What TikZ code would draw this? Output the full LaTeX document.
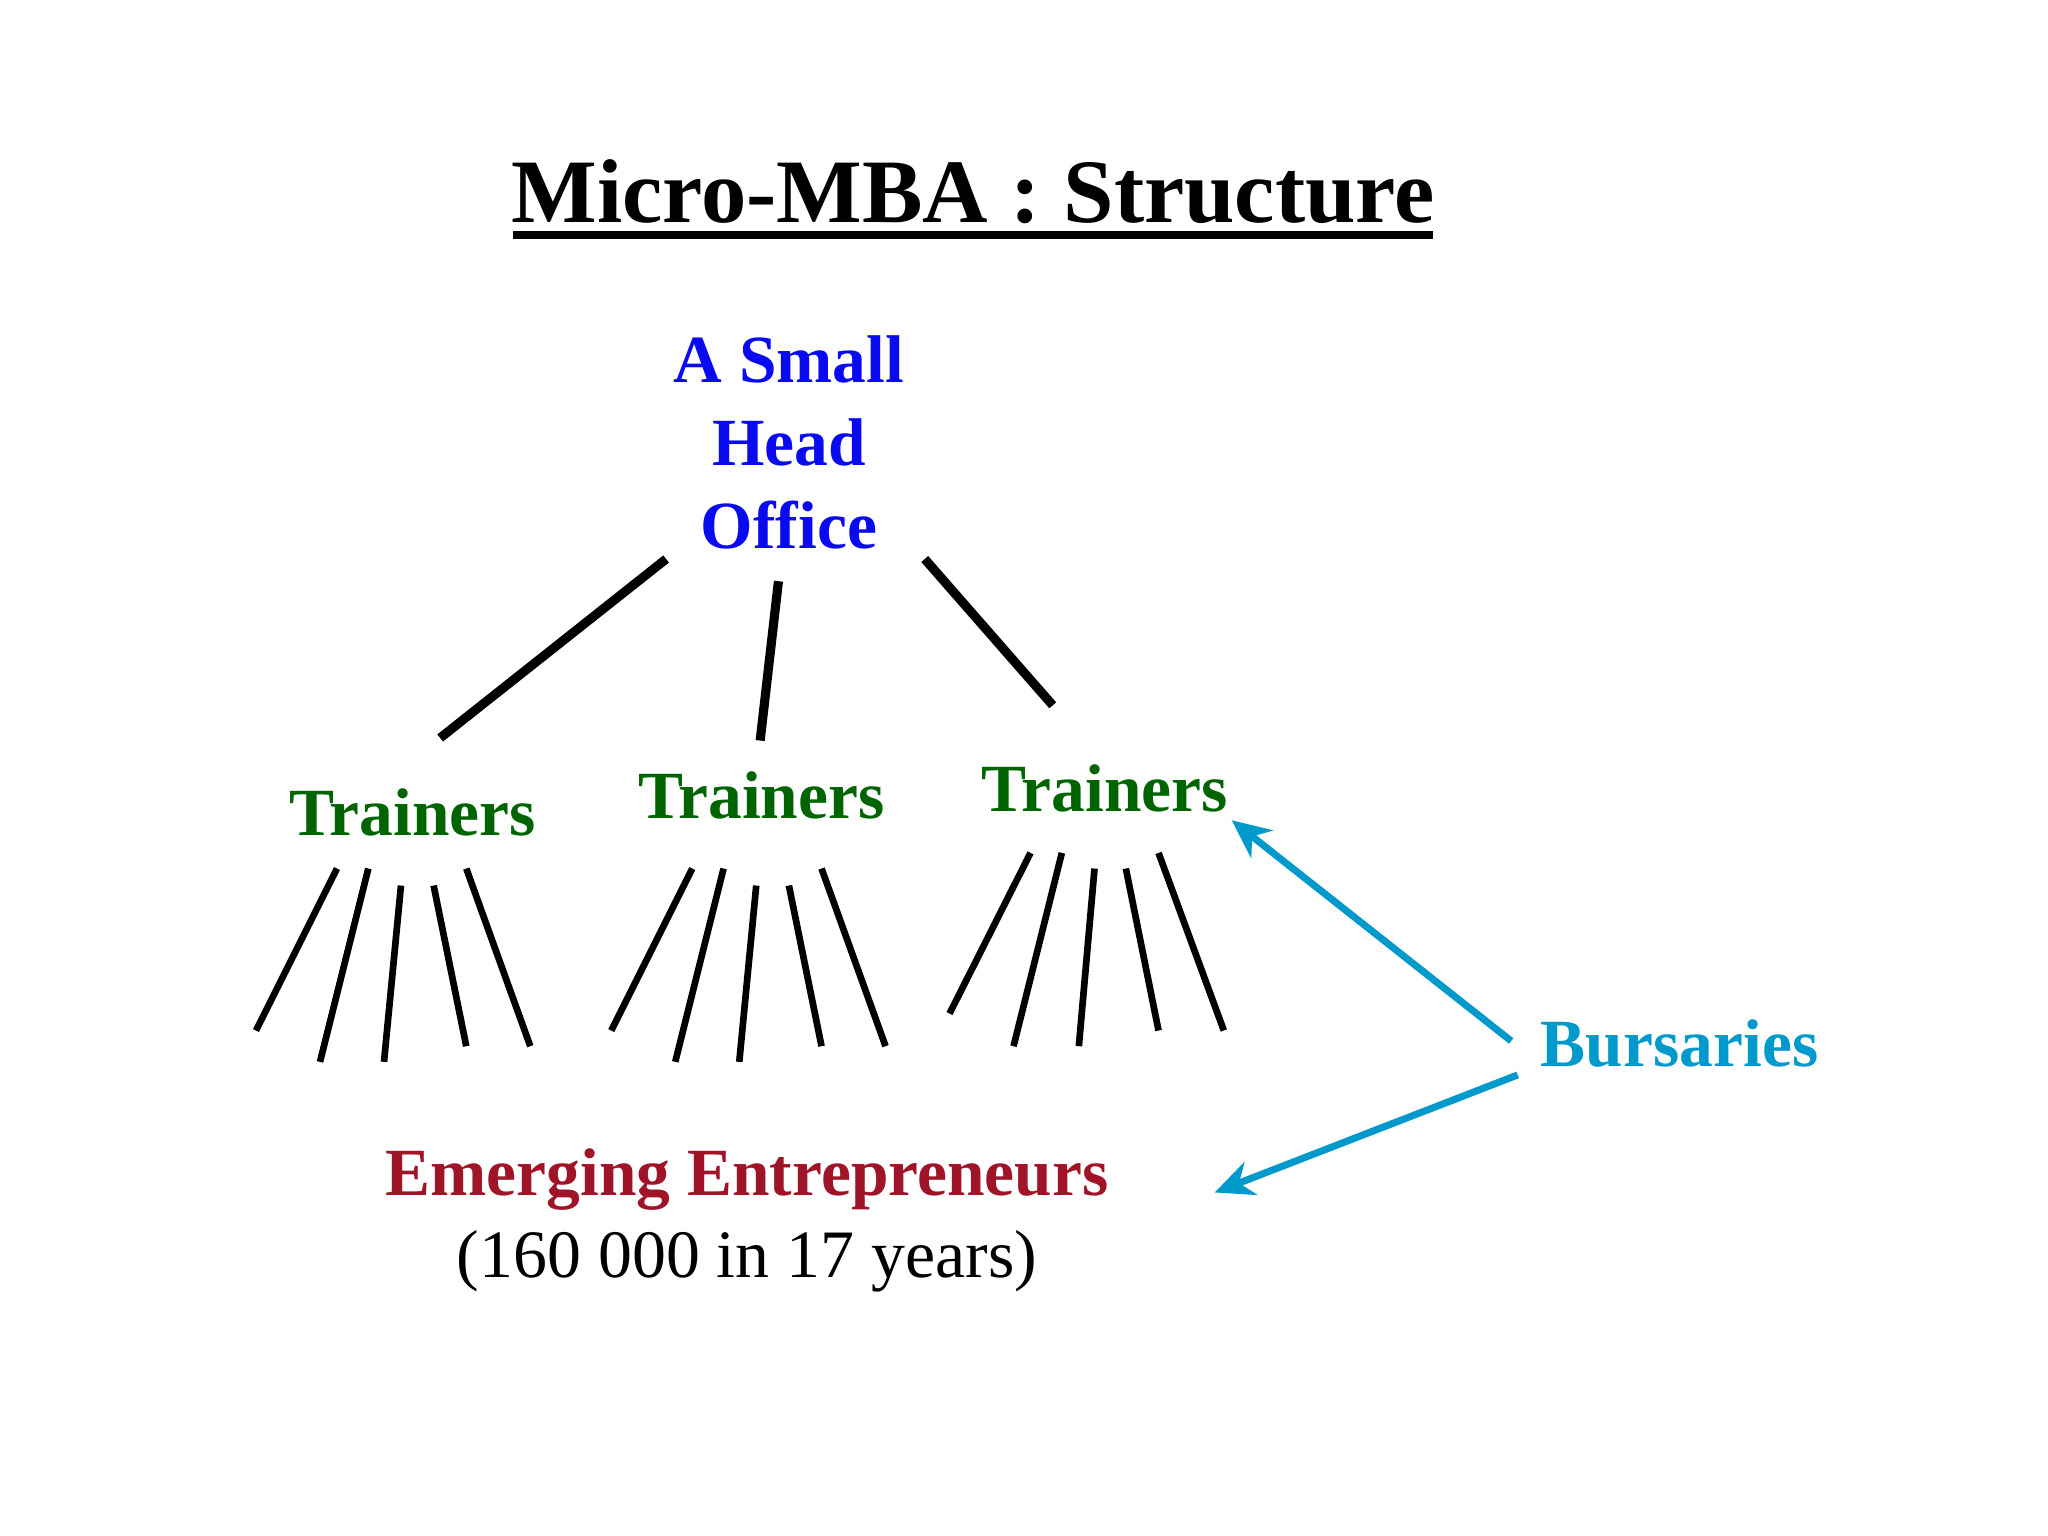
\documentclass[tikz,border=0pt]{standalone}
\usepackage{fontspec}
\setmainfont{Liberation Serif}
\usetikzlibrary{arrows.meta}
\definecolor{hoblue}{RGB}{10,10,240}
\definecolor{trgreen}{RGB}{0,100,0}
\definecolor{emred}{RGB}{160,20,40}
\definecolor{bursblue}{RGB}{0,153,204}
\begin{document}
\begin{tikzpicture}[x=0.01306cm,y=-0.01306cm,
  lbl/.style={font=\bfseries\fontsize{19.2}{23}\selectfont,inner sep=0pt},
  bigline/.style={line width=2.6pt},
  smline/.style={line width=1.9pt},
  barrow/.style={bursblue,line width=2pt,-{Stealth[length=11pt,width=10pt]}}]
\useasboundingbox (0,0) rectangle (1568,1176);
\node[font=\bfseries\fontsize{25.8}{30}\selectfont,inner sep=0pt,anchor=base] (title) at (745,170) {Micro-MBA : Structure};
\draw[line width=2.4pt] (393,180) -- (1097,180);
\node[lbl,hoblue,align=center,font=\bfseries\fontsize{19.2}{23.6}\selectfont] (ho) at (604,339) {A Small\\Head\\Office};
\node[lbl,trgreen] (t1) at (316,622) {Trainers};
\node[lbl,trgreen] (t2) at (583,609) {Trainers};
\node[lbl,trgreen] (t3) at (846,604) {Trainers};
\node[lbl,bursblue] (b) at (1286,799) {Bursaries};
\node[lbl,emred] (em) at (572,903) {Emerging Entrepreneurs};
\node[inner sep=0pt,font=\fontsize{19.3}{23}\selectfont] (yrs) at (572,966) {(160 000 in 17 years)};
\draw[bigline] (510,428)--(337,565) (596,445)--(582,567) (708,428)--(806,540);
\foreach \dx/\dy in {0/0,272/0}{
\draw[smline,shift={(\dx,\dy)}] (258,665)--(196,789) (282,665)--(245,813) (307,678)--(294,813) (332,678)--(357,801) (357,665)--(406,801);}
\draw[smline] (789,653)--(727,776) (813,653)--(776,801) (838,665)--(826,801) (862,665)--(887,789) (887,653)--(937,789);
\coordinate (a1) at (1157,797); \coordinate (a1e) at (943,628);
\coordinate (a2) at (1162,823); \coordinate (a2e) at (930,913);
\draw[barrow] (a1) -- (a1e);
\draw[barrow] (a2) -- (a2e);
\end{tikzpicture}
\end{document}
